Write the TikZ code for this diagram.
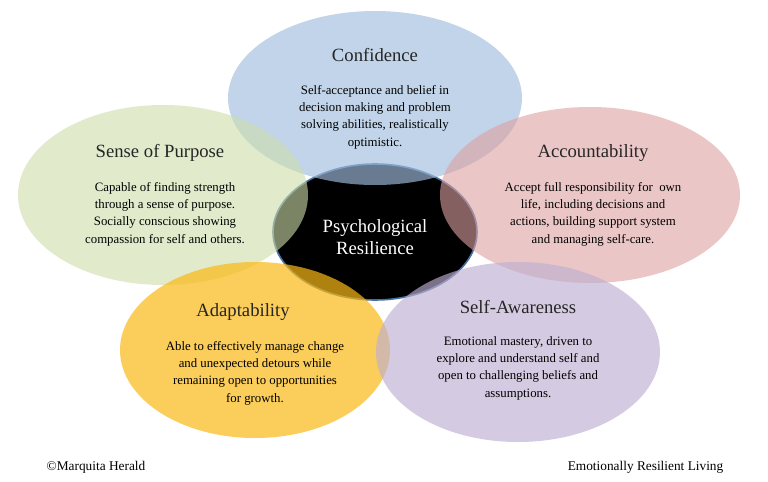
\documentclass[tikz,border=0pt]{standalone}
\usepackage{fontspec}
\setmainfont{Liberation Serif}
\begin{document}
\begin{tikzpicture}[x=0.75pt,y=-0.75pt,
  ttl/.style={font=\fontsize{14}{16}\selectfont,text=black!85},
  body/.style={font=\fontsize{9.6}{13}\selectfont,align=center}]
\useasboundingbox (0,0) rectangle (768,482);
\fill[white] (0,0) rectangle (768,482);
\fill[black,draw={rgb,255:red,70;green,110;blue,160},line width=1.2pt] (375,232) ellipse [x radius=102,y radius=68];
\fill[fill={rgb,255:red,160;green,190;blue,222},fill opacity=0.65] (375,98) ellipse [x radius=147,y radius=87];
\fill[fill={rgb,255:red,205;green,222;blue,170},fill opacity=0.6] (163,195) ellipse [x radius=145,y radius=90];
\fill[fill={rgb,255:red,222;green,160;blue,160},fill opacity=0.6] (590,195) ellipse [x radius=150,y radius=88];
\fill[fill={rgb,255:red,250;green,185;blue,20},fill opacity=0.7] (255,350) ellipse [x radius=135,y radius=88];
\fill[fill={rgb,255:red,190;green,175;blue,210},fill opacity=0.65] (518,352) ellipse [x radius=142,y radius=90];
\node[font=\fontsize{14}{17}\selectfont,align=center,text=white] (core) at (375,237) {Psychological\\Resilience};
\node[ttl] (t1) at (375,55) {Confidence};
\node[body] (b1) at (375,117) {Self-acceptance and belief in\\decision making and problem\\solving abilities, realistically\\optimistic.};
\node[ttl] (t2) at (160,153) {Sense of Purpose};
\node[body] (b2) at (165,214) {Capable of finding strength\\through a sense of purpose.\\Socially conscious showing\\compassion for self and others.};
\node[ttl] (t3) at (593,153) {Accountability};
\node[body] (b3) at (593,214) {Accept full responsibility for\ \ own\\life, including decisions and\\actions, building support system\\and managing self-care.};
\node[ttl] (t4) at (243,312) {Adaptability};
\node[body] (b4) at (255,373) {Able to effectively manage change\\and unexpected detours while\\remaining open to opportunities\\for growth.};
\node[ttl] (t5) at (518,307) {Self-Awareness};
\node[body] (b5) at (518,368) {Emotional mastery, driven to\\explore and understand self and\\open to challenging beliefs and\\assumptions.};
\node[font=\fontsize{10}{12}\selectfont,anchor=west] (c1) at (42,467) {\textcopyright Marquita Herald};
\node[font=\fontsize{10}{12}\selectfont,anchor=east] (c2) at (728,467) {Emotionally Resilient Living};
\end{tikzpicture}
\end{document}
